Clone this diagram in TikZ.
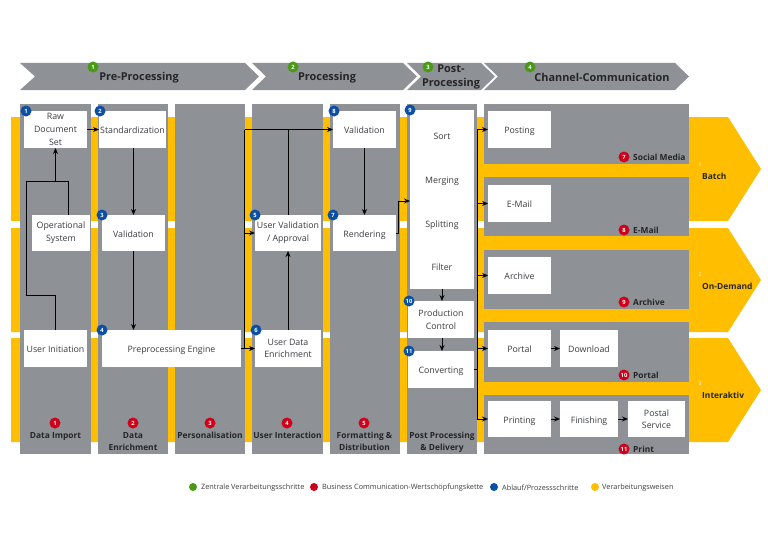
\documentclass[tikz,border=0pt]{standalone}
\usepackage{fontspec}
\setmainfont{Open Sans}
\usetikzlibrary{
  arrows.meta,
  calc,
  positioning
}
\definecolor{panelgray}{HTML}{8E9196}
\definecolor{bandyellow}{HTML}{FFBE00}
\definecolor{stepblue}{HTML}{0B50A4}
\definecolor{chainred}{HTML}{D0001B}
\definecolor{maingreen}{HTML}{4A9A18}
\definecolor{boxtext}{HTML}{3A3C40}
\tikzset{
%
  % For the connectors.
  flow/.style={
    line width=1pt,
    black},
%
  % For connectors that end at a box.
  flow arrow/.style={
    flow,
    -{Stealth[length=6pt,
              width=5pt]}},
%
  % For the gray columns and rows.
  panel/.style={
    fill=panelgray,
    inner sep=0pt,
    outer sep=0pt},
%
  % For the white boxes.
  box/.style={
    fill=white,
    inner sep=0pt,
    outer sep=0pt,
    minimum width=63pt,
    minimum height=37pt,
    align=center,
    text=boxtext,
    font=\fontsize{8.8}{12.6}\selectfont},
%
  % For one line of text on a box.
  one line/.style={
    text height=8.6pt,
    text depth=0pt},
%
  % For texts on a white box that has several of them.
  box text/.style={
    one line,
    text=boxtext,
    font=\fontsize{8.8}{12.6}\selectfont},
%
  % For the numbers in circles.
  badge/.style={
    circle,
    inner sep=0pt,
    minimum size=11pt,
    text=white,
    font=\bfseries\fontsize{5.8}{6}\selectfont},
  step badge/.style={
    badge,
    fill=stepblue},
  chain badge/.style={
    badge,
    fill=chainred},
  main badge/.style={
    badge,
    fill=maingreen},
%
  % For the titles in the top arrows.
  main title/.style={
    align=center,
    font=\bfseries\fontsize{10.9}{14}\selectfont,
    text=black!85},
%
  % For the bold names of columns and rows.
  chain label/.style={
    align=center,
    font=\bfseries\fontsize{8.4}{11.8}\selectfont,
    text=black!85},
%
  % For the legend.
  legend dot/.style={
    circle,
    inner sep=0pt,
    minimum size=8pt},
  legend text/.style={
    anchor=west,
    inner sep=0pt,
    text=boxtext,
    font=\fontsize{7.3}{8}\selectfont}
}

\begin{document}
\begin{tikzpicture}[x=1pt,y=-1pt]
  \useasboundingbox (0,0) rectangle (768,543);

  % yellow bands
  \fill[bandyellow] (11,117) -- (728,117) -- (761,169) -- (728,221) -- (11,221) -- cycle;
  \fill[bandyellow] (11,228) -- (728,228) -- (761,280) -- (728,332) -- (11,332) -- cycle;
  \fill[bandyellow] (11,338) -- (728,338) -- (761,390) -- (728,442) -- (11,442) -- cycle;

  % top arrows
  \fill[panelgray] (20,63) -- (245,63) -- (259,76.5) -- (245,90) -- (20,90) -- (35,76.5) -- cycle;
  \fill[panelgray] (252,63) -- (403,63) -- (417,76.5) -- (403,90) -- (252,90) -- (266,76.5) -- cycle;
  \fill[panelgray] (407,63) -- (481,63) -- (495,76.5) -- (481,90) -- (407,90) -- (421,76.5) -- cycle;
  \fill[panelgray] (484,63) -- (675,63) -- (689,76.5) -- (675,90) -- (484,90) -- (498,76.5) -- cycle;

  \node[main title] (T1) at (139,77.5) {Pre-Processing};
  \node[main title] (T2) at (327,77.5) {Processing};
  \node[main title] (T3) at (451,77) {Post-\\Processing};
  \node[main title] (T4) at (602,77.5) {Channel-Communication};
  \node[main badge] (G1) at (93,67) {1};
  \node[main badge] (G2) at (293,67) {2};
  \node[main badge] (G3) at (428,67) {3};
  \node[main badge] (G4) at (530,67) {4};

  % columns
  \foreach \name/\cx/\w in {C1/55.5/71, C2/133/70, C3/210/70,
                            C4/287.5/71, C5/365/70, C6/442/70}
    \node[panel, minimum width=\w pt, minimum height=350pt] (\name) at (\cx,279) {};

  % rows
  \node[panel, minimum width=205pt, minimum height=60pt] (R1) at (586.5,134) {};
  \node[panel, minimum width=205pt, minimum height=59pt] (R2) at (586.5,206.5) {};
  \node[panel, minimum width=205pt, minimum height=59pt] (R3) at (586.5,279.5) {};
  \node[panel, minimum width=205pt, minimum height=60pt] (R4) at (586.5,352) {};
  \node[panel, minimum width=205pt, minimum height=59pt] (R5) at (586.5,424.5) {};

  % boxes
  \node[box] (Raw) at (55.5,129.5) {Raw\\Document\\Set};
  \node[box, one line, minimum width=67pt] (Std) at (132.5,129.5) {Standardization};
  \node[box, minimum width=58pt, minimum height=36pt] (Os) at (61,233) {Operational\\System};
  \node[box, one line, minimum height=36pt] (Val) at (133.5,233) {Validation};
  \node[box, one line] (Ui) at (55.5,348.5) {User Initiation};
  \node[box, one line, minimum width=139pt] (Pre) at (171.5,348.5) {Preprocessing Engine};
  \node[box, minimum width=66pt, minimum height=36pt] (Uva) at (288,233) {User Validation\\/ Approval};
  \node[box, minimum width=66pt] (Ude) at (288,348.5) {User Data\\Enrichment};
  \node[box, one line] (Ver) at (364.5,129.5) {Validation};
  \node[box, one line, minimum height=36pt] (Ren) at (364.5,233) {Rendering};
  \node[box, minimum width=64pt, minimum height=179pt] (Sorter) at (442,199.5) {};
  \node[box text] (Sort) at (442,135) {Sort};
  \node[box text] (Merge) at (442,179) {Merging};
  \node[box text] (Split) at (442,223) {Splitting};
  \node[box text] (Filter) at (442,266) {Filter};
  \node[box, minimum width=66pt] (Prod) at (441,319.5) {Production\\Control};
  \node[box, one line, minimum width=66pt] (Conv) at (441,369.5) {Converting};
  \node[box, one line] (Post) at (519.5,129.5) {Posting};
  \node[box, one line] (Mail) at (519.5,203.5) {E-Mail};
  \node[box, one line] (Arch) at (519.5,275.5) {Archive};
  \node[box, one line] (Port) at (519.5,348.5) {Portal};
  \node[box, one line, minimum width=58pt] (Down) at (589,348.5) {Download};
  \node[box, one line, minimum height=36pt] (Prin) at (519.5,419) {Printing};
  \node[box, one line, minimum width=58pt, minimum height=36pt] (Fini) at (589,419) {Finishing};
  \node[box, minimum width=57pt, minimum height=36pt] (Serv) at (656.5,419) {Postal\\Service};

  % connectors
  \coordinate (J1) at (Raw |- 0,181);
  \coordinate (J2) at (26,181);
  \coordinate (J3) at (26,295);
  \coordinate (J4) at (244.5,129.5);
  \coordinate (J5) at (477,369.5);

  \draw[flow] (Os.north -| 68,0) |- (J2) -- (J3) -| (Ui.north);
  \draw[flow arrow] (J1) -- (Raw);
  \draw[flow arrow] (Raw) -- (Std);
  \draw[flow arrow] (Std.south -| Val) -- (Val.north);
  \draw[flow arrow] (Val) -- (Val |- Pre.north);
  \draw[flow arrow] (Pre) -- (Ude);
  \draw[flow] (J4 |- Pre) -- (J4);
  \draw[flow arrow] (J4) -- (Ver);
  \draw[flow arrow] (J4 |- Uva) -- (Uva);
  \draw[flow arrow] (Ude) -- (Uva);
  \draw[flow] (Uva) -- (Uva |- J4);
  \draw[flow arrow] (Ver) -- (Ren);
  \draw[flow arrow] (Ren.east) -- +(2.5,0) |- (Sorter.west |- 0,201);
  \draw[flow arrow] (Sorter.south) -- (Sorter.south |- Prod.north);
  \draw[flow arrow] (Sorter.south |- Prod.south) -- (Sorter.south |- Conv.north);
  \draw[flow] (Conv) -- (J5);
  \draw[flow] (J5 |- Post) -- (J5 |- Prin);
  \foreach \target in {Post, Mail, Arch, Port, Prin}
    \draw[flow arrow] (J5 |- \target) -- (\target);
  \draw[flow arrow] (Port) -- (Down);
  \draw[flow arrow] (Prin) -- (Fini);
  \draw[flow arrow] (Fini) -- (Serv);

  % step numbers
  \node[step badge] (S1) at (26,111) {1};
  \node[step badge] (S2) at (100,111) {2};
  \node[step badge] (S3) at (102,215) {3};
  \node[step badge] (S4) at (102,330) {4};
  \node[step badge] (S5) at (255,215) {5};
  \node[step badge] (S6) at (256,330) {6};
  \node[step badge] (S7) at (333,215) {7};
  \node[step badge] (S8) at (334,111) {8};
  \node[step badge] (S9) at (410,110) {9};
  \node[step badge] (S10) at (409,301) {10};
  \node[step badge] (S11) at (409,351) {11};

  % chain of the columns
  \node[chain badge] (K1) at (55,423) {1};
  \node[chain badge] (K2) at (133,423) {2};
  \node[chain badge] (K3) at (210,423) {3};
  \node[chain badge] (K4) at (287,423) {4};
  \node[chain badge] (K5) at (364,423) {5};
  \node[chain label, anchor=north, inner sep=0pt] (L1) at (55.5,432) {Data Import};
  \node[chain label, anchor=north, inner sep=0pt] (L2) at (133,432) {Data\\Enrichment};
  \node[chain label, anchor=north, inner sep=0pt] (L3) at (210,432) {Personalisation};
  \node[chain label, anchor=north, inner sep=0pt] (L4) at (287.5,432) {User Interaction};
  \node[chain label, anchor=north, inner sep=0pt] (L5) at (364.5,432) {Formatting \&\\Distribution};
  \node[chain label, anchor=north, inner sep=0pt] (L6) at (442,432) {Post Processing\\\& Delivery};

  % chain of the rows
  \node[chain badge] (K7) at (624,157) {7};
  \node[chain badge] (K8) at (624,230) {8};
  \node[chain badge] (K9) at (624,302) {9};
  \node[chain badge] (K10) at (624,375) {10};
  \node[chain badge] (K11) at (624,449) {11};
  \node[chain label, anchor=west, inner sep=0pt] (L7) at (633,157) {Social Media};
  \node[chain label, anchor=west, inner sep=0pt] (L8) at (633,230) {E-Mail};
  \node[chain label, anchor=west, inner sep=0pt] (L9) at (633,302) {Archive};
  \node[chain label, anchor=west, inner sep=0pt] (L10) at (633,375) {Portal};
  \node[chain label, anchor=west, inner sep=0pt] (L11) at (633,449) {Print};

  % bands
  \node[text=white, font=\fontsize{5}{6}\selectfont] (Y1) at (700,165) {1};
  \node[text=white, font=\fontsize{5}{6}\selectfont] (Y2) at (700,275) {2};
  \node[text=white, font=\fontsize{5}{6}\selectfont] (Y3) at (700,384) {3};
  \node[chain label, anchor=west, inner sep=0pt] (B1) at (702,176) {Batch};
  \node[chain label, anchor=west, inner sep=0pt] (B2) at (702,286) {On-Demand};
  \node[chain label, anchor=west, inner sep=0pt] (B3) at (702,395) {Interaktiv};

  % legend
  \node[legend dot, fill=maingreen] (D1) at (193,487) {};
  \node[legend text] (E1) at (201,487.5) {Zentrale Verarbeitungsschritte};
  \node[legend dot, fill=chainred] (D2) at (314,487) {};
  \node[legend text] (E2) at (322,487.5) {Business Communication-Wertschöpfungskette};
  \node[legend dot, fill=stepblue] (D3) at (494,487) {};
  \node[legend text] (E3) at (502,487.5) {Ablauf/Prozessschritte};
  \node[legend dot, fill=bandyellow] (D4) at (595,487) {};
  \node[legend text] (E4) at (602,487.5) {Verarbeitungsweisen};
\end{tikzpicture}
\end{document}
